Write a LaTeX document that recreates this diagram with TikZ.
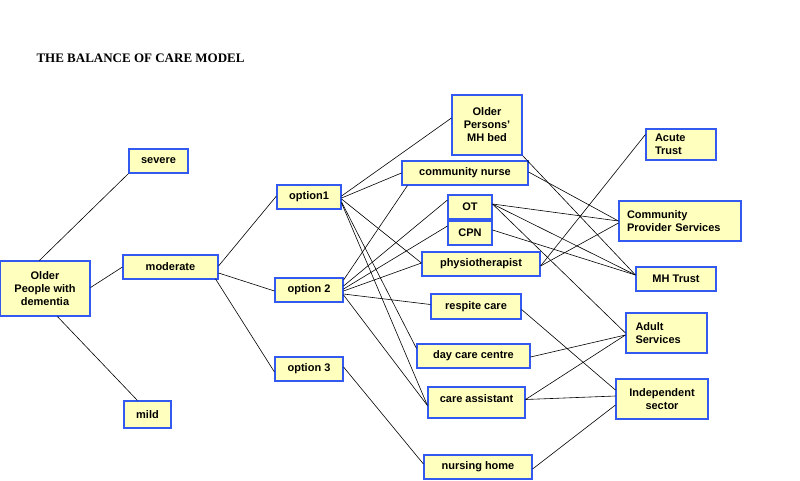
\documentclass[tikz,border=0pt]{standalone}
\usepackage{fontspec}
\usetikzlibrary{calc}
\setmainfont{Liberation Sans}
\newfontfamily\serifb{Liberation Serif}
\definecolor{bx}{RGB}{50,90,240}
\definecolor{fy}{RGB}{255,255,190}
\begin{document}
\begin{tikzpicture}[x=1pt,y=-1pt,
  bx/.style={draw=bx,fill=fy,line width=1.1pt,font=\bfseries\fontsize{11}{13}\selectfont,align=center,inner sep=0pt},
  bl/.style={align=left},
  ln/.style={line width=0.6pt}]
\useasboundingbox (0,0) rectangle (800,480);
\node[font=\serifb\bfseries\fontsize{13}{15}\selectfont,anchor=west] (title) at (33,58) {THE BALANCE OF CARE MODEL};
\newcommand{\bxn}[7][]{\node[bx,#1,minimum width=#5-#3,minimum height=#6-#4] (#2) at ({(#3+#5)/2},{(#4+#6)/2}) {#7};}
\bxn{older}{0}{261}{90}{316}{Older\\People with\\dementia}
\bxn{severe}{129}{149}{188}{173}{severe}
\bxn{moderate}{123}{255}{218}{279}{moderate}
\bxn{mild}{124}{401}{171}{428}{mild}
\bxn{opt1}{277}{185}{341}{209}{option1}
\bxn{opt2}{275}{278}{343}{302}{option 2}
\bxn{opt3}{275}{357}{343}{381}{option 3}
\bxn{bed}{452}{95}{522}{155}{Older\\Persons'\\MH bed}
\bxn{cn}{402}{161}{528}{185}{community nurse}
\bxn{ot}{448}{195}{492}{219}{OT}
\bxn{cpn}{448}{221}{492}{245}{CPN}
\bxn{phys}{422}{252}{540}{276}{physiotherapist}
\bxn{resp}{431}{294}{521}{319}{respite care}
\bxn{day}{417}{344}{530}{368}{day care centre}
\bxn[text depth=8pt]{ca}{428}{387}{525}{418}{care assistant}
\bxn{nh}{424}{455}{532}{479}{nursing home}
\bxn[bl,text width=52pt]{acute}{646}{129}{716}{160}{Acute\\Trust}
\bxn[bl,text width=106pt]{cps}{619}{201}{741}{241}{Community\\Provider Services}
\bxn{mht}{636}{267}{716}{291}{MH Trust}
\bxn[bl,text width=62pt]{adult}{626}{313}{707}{353}{Adult\\Services}
\bxn{ind}{616}{379}{708}{419}{Independent\\sector}
\draw[ln] ($(older.north west)+(40,0)$) -- (severe.south west);
\draw[ln] ($(older.east)+(0,-1)$) -- (moderate.west);
\draw[ln] ($(older.south west)+(58,0)$) -- ($(mild.north west)+(14,0)$);
\draw[ln] ($(moderate.east)+(0,-1)$) -- ($(opt1.west)+(0,-1)$);
\draw[ln] ($(moderate.east)+(0,6)$) -- ($(opt2.west)+(0,1)$);
\draw[ln] ($(moderate.east)+(-3,12)$) -- ($(opt3.west)+(0,3)$);
\draw[ln] ($(opt1.east)+(0,-1)$) -- ($(bed.west)+(0,-7)$);
\draw[ln] ($(opt1.east)+(0,1)$) -- ($(cn.west)+(0,0)$);
\draw[ln] ($(opt1.east)+(0,2)$) -- ($(phys.west)+(0,-1)$);
\draw[ln] ($(opt1.east)+(0,5)$) -- ($(day.north west)+(0,5)$);
\draw[ln] ($(opt1.east)+(0,6)$) -- ($(ca.west)+(0,3)$);
\draw[ln] ($(opt2.east)+(0,-10)$) -- ($(cn.south west)+(6,0)$);
\draw[ln] ($(opt2.east)+(0,-4)$) -- ($(ot.west)+(0,-7)$);
\draw[ln] ($(opt2.east)+(0,-1)$) -- ($(cpn.west)+(0,-7)$);
\draw[ln] ($(opt2.east)+(0,1)$) -- ($(phys.west)+(0,-1)$);
\draw[ln] ($(opt2.east)+(0,4)$) -- ($(resp.west)+(0,-2)$);
\draw[ln] ($(opt2.east)+(0,5)$) -- ($(ca.west)+(0,3)$);
\draw[ln] ($(opt3.east)+(0,-2)$) -- ($(nh.west)+(0,-3)$);
\draw[ln] (bed.south east) -- ($(mht.west)+(0,-4)$);
\draw[ln] ($(cn.east)+(0,-1)$) -- ($(cps.west)+(0,0)$);
\draw[ln] ($(ot.east)+(0,-3)$) -- ($(cps.west)+(0,0)$);
\draw[ln] ($(ot.east)+(0,-3)$) -- ($(mht.west)+(0,-4)$);
\draw[ln] ($(ot.east)+(0,-3)$) -- ($(adult.west)+(0,0)$);
\draw[ln] ($(cpn.east)+(0,-3)$) -- ($(mht.west)+(0,-4)$);
\draw[ln] ($(phys.east)+(0,2)$) -- ($(acute.north west)+(0,6)$);
\draw[ln] ($(phys.east)+(0,2)$) -- ($(cps.west)+(0,2)$);
\draw[ln] ($(resp.east)+(0,3)$) -- ($(ind.west)+(0,-9)$);
\draw[ln] ($(day.east)+(0,1)$) -- ($(adult.west)+(0,2)$);
\draw[ln] ($(ca.east)+(0,-3)$) -- ($(adult.west)+(0,2)$);
\draw[ln] ($(ca.east)+(0,-3)$) -- ($(ind.west)+(0,-3)$);
\draw[ln] ($(nh.east)+(0,2)$) -- ($(ind.west)+(0,6)$);
\end{tikzpicture}
\end{document}
